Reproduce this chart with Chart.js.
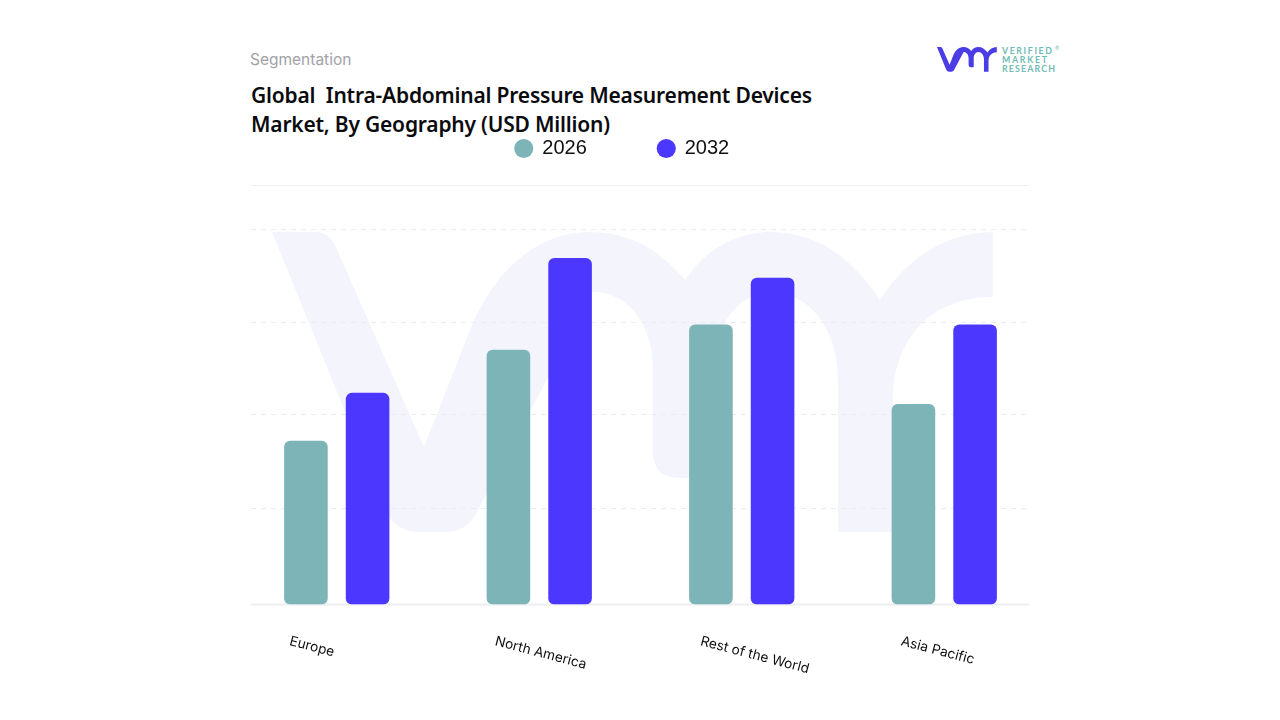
<!DOCTYPE html>
<html>
<head>
<meta charset="utf-8">
<title>Intra-Abdominal Pressure Measurement Devices Market</title>
<script src="https://cdn.jsdelivr.net/npm/chart.js@4/dist/chart.umd.min.js"></script>
<style>
  html, body { margin: 0; padding: 0; background: #fff; width: 1280px; height: 720px; overflow: hidden; }
  #watermark, #logo, #chart { position: absolute; left: 0; top: 0; }
  .segment { position: absolute; left: 250px; top: 50px; font: 400 15.5px Inter, sans-serif; color: #a1a1a6; }
  .title {
    position: absolute; left: 251px; top: 81px; width: 640px; letter-spacing: -0.2px;
    font: 600 21px/29px "Noto Sans", sans-serif; color: #0b0b0f; white-space: pre;
  }
  .rule { position: absolute; left: 251px; top: 185px; width: 778px; height: 1px; background: #eeeef0; }
</style>
</head>
<body>
<svg id="watermark" width="1280" height="720">
  <g fill="#f4f5fc">
  <path id="vmr" d="M272 232 L385 510 Q395 532 420 532 L445 532 Q468 532 478 510 L593 292
    C625 292 653 320 653 370 L653 452 Q653 478 680 478 L715 478 L715 360
    C715 320 745 292 770 292 C810 292 838 330 838 380 L838 532 L893 532 L893 400
    C893 340 930 297 993 297 L993 232 C945 232 905 260 880 300
    C850 255 815 232 770 232 C735 232 705 250 685 280 C660 250 630 232 590 232
    C530 232 490 280 470 330 L424 447 L335 245 Q328 232 315 232 Z"/>
  </g>
</svg>
<svg id="logo" width="1280" height="720">
  <use href="#vmr" transform="translate(914.4 27.7) scale(0.083)" fill="#4b3ce6"/>
  <g font-family="Lato, sans-serif" font-weight="700" font-size="8.8" fill="#6fbcb6">
    <text x="1002" y="53.5" letter-spacing="1.6">VERIFIED</text>
    <text x="1002" y="62.8" letter-spacing="1.7">MARKET</text>
    <text x="1002" y="72" letter-spacing="1.15">RESEARCH</text>
    <text x="1055" y="50" font-size="5" font-weight="400">®</text>
  </g>
</svg>
<div class="segment">Segmentation</div>
<div class="title">Global  Intra-Abdominal Pressure Measurement Devices
Market, By Geography (USD Million)</div>
<div class="rule"></div>
<canvas id="chart" width="1280" height="720"></canvas>

<script>
const REGIONS = ['Europe', 'North America', 'Rest of the World', 'Asia Pacific'];
const VALUES_2026 = [175, 272, 299, 214];
const VALUES_2032 = [226, 370, 349, 299];

// the reference guide lines are not quite evenly spaced
const GRID_VALUES = [0, 103, 203, 302, 401];

const TEAL = '#7cb4b8';
const BLUE = '#4b37ff';

// nudges for the slanted region labels, the source places them by hand
const LABEL_SHIFT = [-47, -44, -41, -43];

const guideLines = {
  id: 'guideLines',
  beforeDatasetsDraw(chart) {
    const { ctx, scales: { y } } = chart;
    ctx.save();
    GRID_VALUES.forEach((value) => {
      const py = Math.round(y.getPixelForValue(value));
      ctx.beginPath();
      if (value === 0) {
        ctx.strokeStyle = '#eceef2';
        ctx.lineWidth = 2;
        ctx.setLineDash([]);
        ctx.moveTo(251, py - 0.5);
        ctx.lineTo(1029, py - 0.5);
      } else {
        ctx.strokeStyle = '#ebebf0';
        ctx.lineWidth = 1;
        ctx.setLineDash([5, 5]);
        ctx.moveTo(251, py + 0.5);
        ctx.lineTo(1029, py + 0.5);
      }
      ctx.stroke();
    });
    ctx.restore();
  },
};

const slantedLabels = {
  id: 'slantedLabels',
  afterDraw(chart) {
    const { ctx, scales: { x } } = chart;
    ctx.save();
    ctx.font = '400 13.7px Inter, sans-serif';
    ctx.fillStyle = '#111';
    ctx.textAlign = 'left';
    ctx.textBaseline = 'middle';
    chart.data.labels.forEach((label, i) => {
      ctx.save();
      ctx.translate(x.getPixelForValue(i) + LABEL_SHIFT[i], 641);
      ctx.rotate(14.7 * Math.PI / 180);
      ctx.fillText(label, 0, 0);
      ctx.restore();
    });
    ctx.restore();
  },
};

new Chart(document.getElementById('chart'), {
  type: 'bar',
  data: {
    labels: REGIONS,
    datasets: [
      { label: '2026', data: VALUES_2026, backgroundColor: TEAL },
      { label: '2032', data: VALUES_2032, backgroundColor: BLUE },
    ],
  },
  plugins: [guideLines, slantedLabels],
  options: {
    responsive: false,
    devicePixelRatio: 1,
    animation: false,
    categoryPercentage: 0.609,
    barPercentage: 0.707,
    borderRadius: 6,
    borderSkipped: false,
    layout: { padding: { left: 199, right: 234.5, top: 67.5, bottom: 115.5 } },
    plugins: {
      tooltip: { enabled: false },
      legend: {
        position: 'top',
        labels: {
          usePointStyle: true,
          pointStyle: 'circle',
          boxWidth: 17,
          boxHeight: 13.5,
          padding: 71,
          color: '#111',
          font: { family: '"Liberation Sans", sans-serif', size: 20, lineHeight: 17 / 20 },
        },
      },
    },
    scales: {
      x: { display: false },
      y: {
        min: 0,
        max: 465.6,
        afterFit: (scale) => { scale.width = 36.5; },
        grid: { display: false },
        border: { display: false },
        ticks: { display: false, stepSize: 100 },
      },
    },
  },
});
</script>
</body>
</html>
